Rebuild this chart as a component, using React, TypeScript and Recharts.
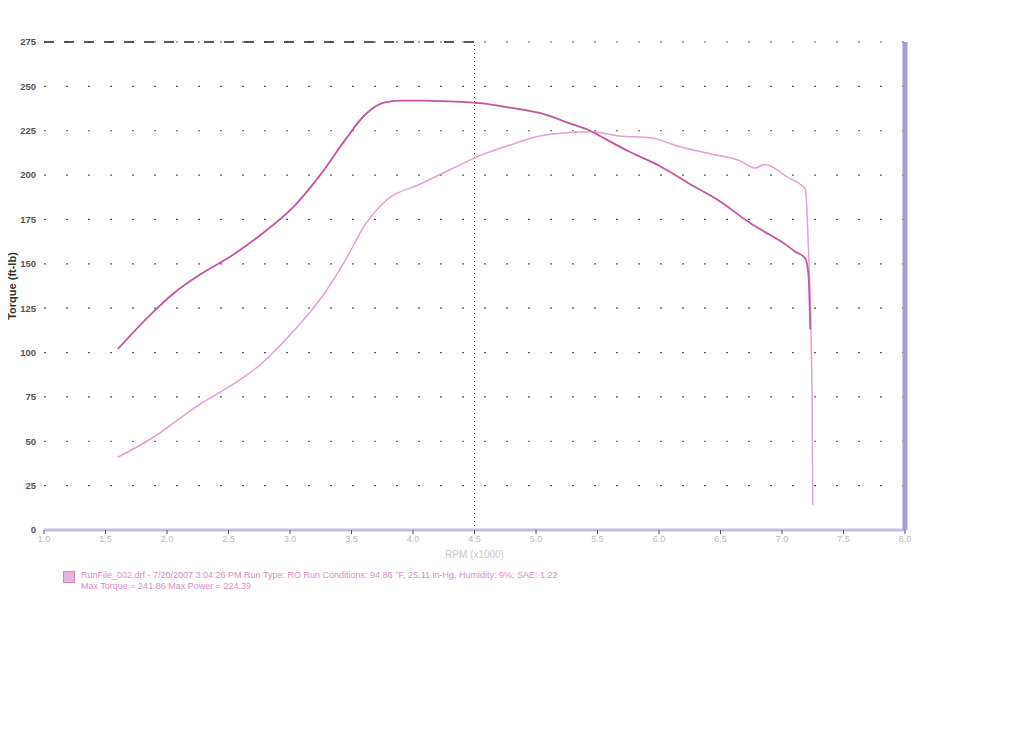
import {
    LineChart,
    Line,
    XAxis,
    YAxis,
    CartesianGrid,
    ReferenceLine,
} from "recharts";

// engine speed (rpm) and readings
const torqueRpm = [1600, 1860, 2065, 2270, 2535, 2755, 3040, 3245, 3450, 3610, 3770, 3900, 4060, 4300, 4545, 4790, 5030, 5280, 5440, 5520, 5765, 6010, 6250, 6500, 6740, 6860, 6985, 7105, 7190, 7215, 7230];
const torqueValues = [102, 121, 134, 144, 155, 166, 183, 200, 220, 234, 241, 242, 242, 241.5, 240.5, 238, 235, 229, 225, 222, 213, 205, 195, 185, 173, 168, 163, 157, 153, 144, 113];

const powerRpm = [1600, 1860, 2270, 2535, 2755, 3040, 3245, 3450, 3610, 3770, 4060, 4300, 4545, 4790, 5030, 5280, 5440, 5680, 5930, 6170, 6415, 6660, 6780, 6860, 7065, 7145, 7190, 7215, 7245, 7250];
const powerValues = [41, 51, 71, 82, 93, 113, 130, 152, 172, 185, 195, 203, 211, 217, 222, 224, 224.4, 222, 221, 216, 212, 208, 204, 206, 198, 195, 192, 158, 73, 14];

const xTicks = [1000, 1500, 2000, 2500, 3000, 3500, 4000, 4500, 5000, 5500, 6000, 6500, 7000, 7500, 8000];
const yTicks = [0, 25, 50, 75, 100, 125, 150, 175, 200, 225, 250, 275];

const cursorRpm = 4500;

const legendLine1 =
    "RunFile_002.drf - 7/20/2007 3:04:26 PM  Run Type: RO  Run Conditions: 94.86 °F, 25.11 in-Hg,  Humidity: 9%,  SAE: 1.22";
const legendLine2 = "Max Torque = 241.86  Max Power = 224.39";

const torqueData = torqueRpm.map((rpm, i) => ({ rpm, torque: torqueValues[i] }));
const powerData = powerRpm.map((rpm, i) => ({ rpm, power: powerValues[i] }));

export default function App() {
    return (
        <div style={{ position: "relative", width: 1016, height: 720, marginLeft: -8, fontFamily: "Arial, 'Liberation Sans', sans-serif" }}>
            <LineChart
                width={1016}
                height={600}
                margin={{ top: 34, right: 103, bottom: 48, left: 0 }}
            >
                <CartesianGrid
                    yAxisId="left"
                    horizontal
                    vertical={false}
                    stroke="#555"
                    strokeWidth={1.2}
                    strokeDasharray="2 20"
                />
                <XAxis
                    dataKey="rpm"
                    type="number"
                    domain={[1000, 8000]}
                    ticks={xTicks}
                    allowDuplicatedCategory={false}
                    tickFormatter={(v) => (v / 1000).toFixed(1)}
                    tick={{ fill: "#bbb", fontSize: 9 }}
                    tickLine={{ stroke: "#555" }}
                    tickSize={4}
                    axisLine={{ stroke: "#c4bce0", strokeWidth: 3 }}
                    height={30}
                    label={{ value: "RPM (x1000)", position: "insideBottom", offset: 2, fill: "#c8c8c8", fontSize: 10 }}
                />
                <YAxis
                    yAxisId="left"
                    type="number"
                    domain={[0, 275]}
                    ticks={yTicks}
                    width={44}
                    tick={{ fill: "#555", fontSize: 9.5, fontWeight: "bold" }}
                    tickLine={false}
                    tickMargin={2}
                    axisLine={false}
                    label={{ value: "Torque (ft-lb)", angle: -90, position: "insideLeft", offset: 12, fill: "#333", fontSize: 11, fontWeight: "bold", style: { textAnchor: "middle" } }}
                />
                <YAxis
                    yAxisId="right"
                    orientation="right"
                    type="number"
                    domain={[0, 275]}
                    ticks={yTicks}
                    width={8}
                    tick={false}
                    tickLine={false}
                    axisLine={{ stroke: "#a99bd6", strokeWidth: 5 }}
                />
                <ReferenceLine
                    yAxisId="left"
                    segment={[{ x: 1000, y: 275 }, { x: cursorRpm, y: 275 }]}
                    stroke="#222"
                    strokeWidth={1.5}
                    strokeDasharray="10 10"
                />
                <ReferenceLine
                    yAxisId="left"
                    x={cursorRpm}
                    stroke="#333"
                    strokeDasharray="1 3"
                />
                <Line
                    yAxisId="left"
                    data={powerData}
                    dataKey="power"
                    type="monotone"
                    stroke="#e0a2d2"
                    strokeWidth={1.5}
                    dot={false}
                    isAnimationActive={false}
                />
                <Line
                    yAxisId="left"
                    data={torqueData}
                    dataKey="torque"
                    type="monotone"
                    stroke="#c3569f"
                    strokeWidth={1.8}
                    dot={false}
                    isAnimationActive={false}
                />
            </LineChart>
            <div style={{ position: "absolute", left: 63, top: 562, display: "flex", alignItems: "flex-start", fontSize: 9, color: "#d58fc6", lineHeight: "11px" }}>
                <div style={{ width: 10, height: 10, background: "#e7b2dc", border: "1px solid #c98abb", marginRight: 6, marginTop: 1 }} />
                <div>
                    <div>{legendLine1}</div>
                    <div>{legendLine2}</div>
                </div>
            </div>
        </div>
    );
}
